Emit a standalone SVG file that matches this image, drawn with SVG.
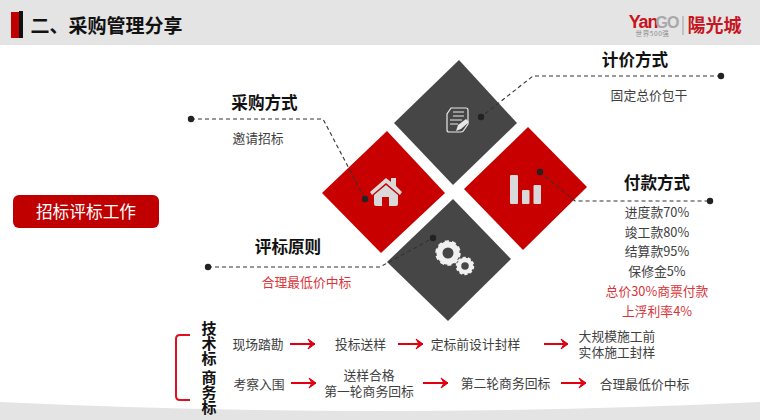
<svg xmlns="http://www.w3.org/2000/svg" width="760" height="420" viewBox="0 0 760 420">
<style>
text{font-family:"Noto Sans CJK SC","Liberation Sans",sans-serif;text-anchor:middle;fill:#404040;font-size:12.8px}
.t{font-weight:700;font-size:16.6px;fill:#111}
.v{font-weight:700;font-size:15px;fill:#111;writing-mode:vertical-rl}
.r{fill:#d8353a}
.dk{fill:#464646}
.rd{fill:#c80000}
.ic{fill:#d9d9d9}
.dash{fill:none;stroke:#333;stroke-width:1.1;stroke-dasharray:4 3}
.dot{fill:#222}
.ar{fill:none;stroke:#e00010;stroke-width:2;marker-end:url(#h)}
</style>
<defs>
<marker id="h" markerUnits="userSpaceOnUse" markerWidth="12" markerHeight="12" refX="9" refY="6" orient="auto">
<path d="M2,1 L9,6 L2,11 L5,6 Z" fill="#e00010" stroke="#e00010" stroke-width="1"/>
</marker>
</defs>
<rect width="760" height="420" fill="#fff"/>
<g id="header">
<rect width="760" height="45" fill="#e4e4e4"/>
<rect x="11" y="12" width="8" height="26" fill="#c00000"/>
<rect x="19" y="11" width="4" height="27" fill="#111"/>
<text x="106.500" y="33" style="font-size:19px;font-weight:700;fill:#111">二、采购管理分享</text>
</g>
<g id="logo">
<text x="643" y="28" style="font-family:'Liberation Sans',sans-serif;font-weight:700;font-size:18px;fill:#c8141e;letter-spacing:-1.2px">Yan</text>
<text x="667" y="28" style="font-family:'Liberation Sans',sans-serif;font-weight:700;font-size:16px;fill:#a8a8a8;letter-spacing:-1px">GO</text>
<text x="652.500" y="36" style="font-size:6.500px;fill:#8a8a8a;letter-spacing:.6px">世界500强</text>
<rect x="682.500" y="16" width="1" height="19" fill="#a0a0a0"/>
<text x="714.500" y="32" style="font-family:'Noto Sans CJK TC',sans-serif;font-weight:700;font-size:18px;fill:#c8141e">陽光城</text>
</g>
<path id="footer" d="M0,402 Q380,420 760,402 V420 H0 Z" fill="#e4e4e4"/>
<g id="button">
<rect x="13" y="195" width="146" height="33" rx="6" fill="#c00000"/>
<text x="86" y="218" style="font-size:16.700px;fill:#fff">招标评标工作</text>
</g>
<g id="node-pricing">
<polygon class="dk" points="459,60 517,123 453,185 394,123"/>
<path d="M451,108 H466 Q468,108 468,110 V124 L464,130 Q463,132 461,132 H449 Q447,132 447,130 V114 Z" fill="none" stroke="#e8e8e8" stroke-width="1.200"/>
<path d="M453,112 H464 M453,116 H464 M450,120 H462 M450,124 H458" stroke="#e8e8e8" stroke-width="1.200"/>
<path d="M456,131 L458,125 L466,119 L469,122 L461,129 Z" fill="#e8e8e8"/>
</g>
<g id="node-purchase">
<polygon class="rd" points="387,131 445,193 381,253 322,193"/>
<path class="ic" d="M386,178 L391,182 V178 H396 V186 L402,192 L400,195 L386,183 L372,195 L370,192 Z M374,195 L386,185 L398,195 V204 Q398,206 396,206 H389 V197 H382 V206 H376 Q374,206 374,204 Z"/>
</g>
<g id="node-payment">
<polygon class="rd" points="528,127 587,187 523,250 464,189"/>
<rect class="ic" x="510" y="175" width="8" height="29" rx="1"/>
<rect class="ic" x="522" y="190" width="7.500" height="14" rx="1"/>
<rect class="ic" x="533.500" y="185" width="7.500" height="19" rx="1"/>
</g>
<g id="node-criteria">
<polygon class="dk" points="453,199 511,259 448,321 387,262"/>
<circle cx="448" cy="253" r="8.500" fill="none" stroke="#f0f0f0" stroke-width="6"/>
<circle cx="448" cy="253" r="11" fill="none" stroke="#f0f0f0" stroke-width="3.500" stroke-dasharray="4 2.910"/>
<circle cx="465" cy="266" r="6" fill="none" stroke="#f0f0f0" stroke-width="4.500"/>
<circle cx="465" cy="266" r="8" fill="none" stroke="#f0f0f0" stroke-width="2.500" stroke-dasharray="3 2.030"/>
</g>
<g id="connectors">
<polyline class="dash" points="191,119 323,119 365,199"/>
<polyline class="dash" points="721,76 533,76 481,117"/>
<polyline class="dash" points="540,172 575,201 710,201"/>
<polyline class="dash" points="208,267 380,267 433,238"/>
<circle class="dot" cx="191" cy="119" r="3.200"/><circle class="dot" cx="365" cy="199" r="3.200"/>
<circle class="dot" cx="721" cy="76" r="3.200"/><circle class="dot" cx="481" cy="117" r="3.200"/>
<circle class="dot" cx="540" cy="172" r="3.200"/><circle class="dot" cx="710" cy="201" r="3.200"/>
<circle class="dot" cx="208" cy="267" r="3.200"/><circle class="dot" cx="433" cy="238" r="3.200"/>
<line class="ar" x1="290" y1="344" x2="315" y2="344"/>
<line class="ar" x1="398" y1="344" x2="423" y2="344"/>
<line class="ar" x1="544" y1="344" x2="568" y2="344"/>
<line class="ar" x1="291" y1="383" x2="316" y2="383"/>
<line class="ar" x1="423" y1="383" x2="448" y2="383"/>
<line class="ar" x1="561" y1="383" x2="586" y2="383"/>
<path d="M190,335 H180 Q176,335 176,339 V396 Q176,400 180,400 H190" fill="none" stroke="#e01020" stroke-width="2"/>
</g>
<g id="label-purchase"><text class="t" x="264.500" y="109">采购方式</text><text x="258" y="143">邀请招标</text></g>
<g id="label-pricing"><text class="t" x="635" y="66">计价方式</text><text x="649" y="100">固定总价包干</text></g>
<g id="label-payment">
<text class="t" x="657" y="189">付款方式</text>
<text x="657" y="217">进度款70%</text>
<text x="657" y="236.500">竣工款80%</text>
<text x="657" y="256">结算款95%</text>
<text x="657" y="276">保修金5%</text>
<text class="r" x="657" y="296">总价30%商票付款</text>
<text class="r" x="657" y="316">上浮利率4%</text>
</g>
<g id="label-criteria"><text class="t" x="288" y="253">评标原则</text><text class="r" x="306.500" y="287">合理最低价中标</text></g>
<g id="label-tech"><text class="v" x="209" y="343">技术标</text></g>
<g id="label-biz"><text class="v" x="209" y="392.500">商务标</text></g>
<g id="flow-row-1">
<text x="258" y="349">现场踏勘</text>
<text x="360.500" y="349">投标送样</text>
<text x="475.500" y="349">定标前设计封样</text>
<text x="617" y="341">大规模施工前</text>
<text x="617" y="357">实体施工封样</text>
</g>
<g id="flow-row-2">
<text x="259" y="389">考察入围</text>
<text x="369" y="380">送样合格</text>
<text x="369" y="396">第一轮商务回标</text>
<text x="505.500" y="388">第二轮商务回标</text>
<text x="644.500" y="389">合理最低价中标</text>
</g>
</svg>
